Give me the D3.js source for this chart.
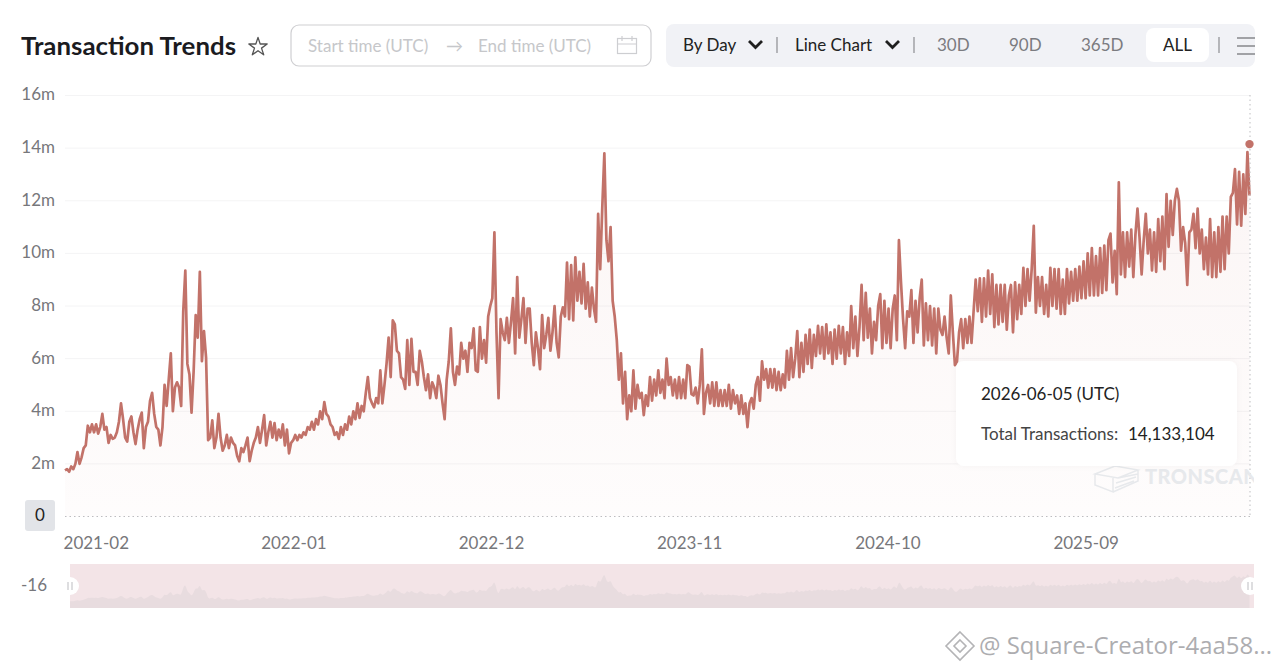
<!DOCTYPE html>
<html><head><meta charset="utf-8">
<script src="https://cdn.jsdelivr.net/npm/d3@7"></script>
<style>
html,body{margin:0;padding:0;background:#fff;overflow:hidden}
svg{display:block;font-family:Lato,sans-serif}
</style></head><body><svg id="c" width="1280" height="671"></svg>
<script>
// Data: total transactions (millions), sampled evenly from startDate to endDate
const startDate = "2020-12-11", endDate = "2026-06-05";
const values2021 = [
1.75,1.8,1.7,1.9,1.8,2.0,2.45,2.0,2.25,2.6,
2.7,3.45,3.2,3.5,3.2,3.5,3.15,3.4,3.9,3.3,
3.4,2.8,3.1,2.95,3.0,3.2,3.6,4.3,3.7,3.0,
2.85,3.6,3.8,3.2,2.75,3.3,3.7,3.95,2.6,3.4,
3.6,4.4,4.7,3.9,3.4,3.3,2.7,3.4,5.0,4.2,
5.2,6.2,4.0,4.9,5.1,4.9,4.2,7.8,9.35,5.8,
5.4,3.95,5.5,7.65,6.8,9.3,5.9,7.05,6.05,2.9,
3.0,3.65,2.6,3.0,3.9,3.0,2.5,2.7,3.1,2.6,
3.0,2.8,2.7,2.3,2.1,2.6,2.45,2.7,3.0,2.1,
2.5,2.8,3.0,3.4,2.8,3.3,3.85,2.7,3.2,3.6];
const values2022 = [
3.0,3.55,2.9,3.3,3.0,3.5,2.7,3.3,2.4,2.8,
2.9,3.1,2.9,3.1,3.0,3.2,3.1,3.4,3.3,3.6,
3.3,3.7,3.5,4.0,3.7,4.35,3.9,3.8,3.5,3.4,
3.1,3.2,2.95,3.4,3.1,3.5,3.3,3.8,3.5,4.0,
3.7,4.3,3.75,4.2,4.0,4.7,5.3,4.5,4.3,4.15,
4.5,4.3,5.55,4.3,5.0,5.8,6.8,5.3,7.45,7.3,
6.3,6.2,5.3,5.2,4.85,6.7,5.0,6.75,5.5,5.5,
5.0,6.3,5.9,5.3,4.8,5.4,4.5,5.1,4.9,4.5,
5.35,5.0,4.3,3.7,5.2,5.9,7.15,5.5,5.0,5.7,
5.4,6.6,6.0,6.3,5.5,6.6,6.4,7.15,5.55,5.5];
const values2023 = [
7.2,6.0,6.7,5.85,7.6,8.0,8.3,10.8,7.0,4.5,
7.5,7.0,6.7,7.55,6.6,7.4,8.3,6.2,9.1,6.8,
7.5,8.3,6.6,7.9,7.9,6.6,5.75,7.0,6.4,5.6,
7.65,6.4,6.9,7.55,6.3,7.0,8.0,6.6,6.05,7.6,
7.95,7.6,9.65,7.5,9.55,7.45,9.85,8.2,9.3,8.1,
9.6,7.9,8.9,7.6,8.7,7.9,7.4,11.5,9.4,11.75,
13.8,10.5,9.7,11.0,8.2,7.6,6.7,5.2,6.2,4.3,
5.5,3.7,4.6,4.0,5.55,4.1,5.0,4.5,4.7,3.85,
4.6,4.2,5.3,4.4,5.2,4.6,5.55,4.7,5.2,4.5,
6.0,5.0,5.3,4.6,5.2,4.5,5.3,4.5,5.2,4.5];
const values2024 = [
5.75,5.7,4.65,4.6,4.9,4.3,5.0,6.35,3.9,4.7,
5.0,4.3,5.1,4.2,5.1,4.2,4.8,4.2,4.8,4.2,
5.0,4.1,4.8,4.3,4.6,3.9,4.6,3.9,4.3,3.4,
4.3,4.5,4.1,5.0,5.3,4.4,5.9,5.2,5.6,4.9,
5.6,4.9,5.6,4.8,5.5,4.8,5.4,4.9,6.3,5.2,
6.4,5.3,6.0,7.05,5.3,6.6,5.5,6.9,5.8,7.1,
5.65,6.9,6.1,7.25,6.2,7.2,6.0,7.3,6.2,7.0,
5.8,7.1,6.0,7.25,6.2,7.2,5.8,7.0,6.1,8.0,
6.4,7.6,6.1,7.2,8.8,6.7,8.5,6.8,7.9,6.2,
7.4,6.7,8.0,8.45,6.4,8.2,6.6,7.9,6.4,7.9];
const values2025 = [
8.4,6.7,10.5,8.9,7.5,6.4,7.8,7.6,8.6,6.6,
8.2,7.0,8.3,9.0,6.5,8.1,6.7,8.0,6.5,7.9,
6.2,7.9,7.1,6.9,7.6,6.8,6.2,8.4,7.0,5.75,
5.9,7.0,7.5,6.4,7.5,6.6,7.6,6.6,7.8,9.0,
7.8,9.05,7.4,9.05,7.6,9.35,7.7,9.2,7.2,8.8,
7.3,8.8,7.4,8.8,7.1,8.4,8.8,7.0,8.9,7.5,
8.8,7.7,9.45,8.0,9.4,8.2,9.4,11.05,7.75,9.1,
8.0,9.1,7.7,8.8,7.6,9.45,8.0,9.4,7.9,9.4,
7.7,9.0,7.7,9.4,8.1,9.3,8.2,9.4,8.2,9.5,
8.3,9.7,8.3,10.0,8.4,10.2,8.4,9.9,8.4,10.2];
const values2026 = [
8.5,10.3,8.6,10.5,10.75,8.9,10.1,8.45,12.7,9.2,
10.8,9.1,10.8,9.5,10.9,9.1,10.7,11.7,10.6,9.2,
10.5,11.5,10.0,10.9,9.35,10.8,9.3,11.3,9.7,11.4,
9.4,12.25,10.25,12.0,10.7,12.0,12.45,12.0,10.1,11.0,
10.4,8.8,10.8,10.9,11.5,10.2,11.7,10.0,10.9,9.4,
10.6,9.2,11.3,9.1,10.8,9.1,11.0,9.3,11.4,9.4,
11.4,10.0,12.15,12.3,13.2,11.1,13.1,11.05,13.0,11.5,13.85,12.2];
const series = [...values2021,...values2022,...values2023,...values2024,...values2025,...values2026];
const yTicks = [0,2,4,6,8,10,12,14,16];
const xTickDates = ["2021-02-01","2022-01-01","2022-12-01","2023-11-01","2024-10-01","2025-09-01"];
const xTickLabels = ["2021-02","2022-01","2022-12","2023-11","2024-10","2025-09"];
const latestDate = "2026-06-05", latestValue = 14133104;
const rangeButtons = ["30D","90D","365D","ALL"];

const parse = d3.utcParse("%Y-%m-%d");
const t0 = parse(startDate), t1 = parse(endDate);
const data = series.map((v,i)=>({date:new Date(+t0+(t1-t0)*i/(series.length-1)),v}));

const svg = d3.select("#c");
const x = d3.scaleUtc().domain([t0,t1]).range([65,1249.5]);
const y = d3.scaleLinear().domain([0,16]).range([516.5,95.5]);
const my = d3.scaleLinear().domain([-1,16]).range([608,568]);

const defs = svg.append("defs");
const grad = defs.append("linearGradient").attr("id","af").attr("x1",0).attr("x2",0).attr("y1",0).attr("y2",1);
grad.append("stop").attr("offset",0).attr("stop-color","#c9736d").attr("stop-opacity",.07);
grad.append("stop").attr("offset",1).attr("stop-color","#c9736d").attr("stop-opacity",.02);
defs.append("filter").attr("id","sh").attr("x","-10%").attr("y","-10%").attr("width","120%").attr("height","120%")
  .append("feDropShadow").attr("dx",0).attr("dy",0).attr("stdDeviation",3).attr("flood-color","#000").attr("flood-opacity",.035);
defs.append("clipPath").attr("id","wm").append("rect").attr("x",1090).attr("y",460).attr("width",164).attr("height",40);
defs.append("clipPath").attr("id","mini").append("rect").attr("x",70).attr("y",560).attr("width",1184).attr("height",50);

// Header
svg.append("text").attr("x",21).attr("y",55).attr("font-size",25).attr("font-weight",700).attr("fill","#1b1b1f").attr("textLength",215).attr("lengthAdjust","spacingAndGlyphs").text("Transaction Trends");
const star = d3.symbol().type(d3.symbolStar).size(105);
svg.append("path").attr("d",star()).attr("transform","translate(258,47)").attr("fill","none").attr("stroke","#555").attr("stroke-width",1.3).attr("stroke-linejoin","round");

svg.append("rect").attr("x",291).attr("y",25).attr("width",360).attr("height",41).attr("rx",8).attr("fill","#fff").attr("stroke","#cfcfd2").attr("stroke-width",1.2);
const ph = [["Start time (UTC)",308],["→",446],["End time (UTC)",478]];
ph.forEach(([t,px])=>svg.append("text").attr("x",px).attr("y",52).attr("font-size",17).attr("fill","#c6c7ca").text(t));
const cal = svg.append("g").attr("fill","none").attr("stroke","#cdced1").attr("stroke-width",1.2);
cal.append("rect").attr("x",617.5).attr("y",38.5).attr("width",19).attr("height",15);
cal.append("path").attr("d","M617.5 44H636.5M622 36V41M632 36V41");

svg.append("rect").attr("x",666).attr("y",24).attr("width",589).attr("height",43).attr("rx",8).attr("fill","#f1f2f6");
svg.append("rect").attr("x",1146).attr("y",28).attr("width",63).attr("height",34).attr("rx",8).attr("fill","#fff");
[["By Day",683],["Line Chart",795]].forEach(([t,px])=>svg.append("text").attr("x",px).attr("y",51).attr("font-size",17).attr("fill","#222").text(t));
[["M749 41L755.5 47.5L762 41"],["M886 41L892.5 47.5L899 41"]].forEach(([d])=>svg.append("path").attr("d",d).attr("fill","none").attr("stroke","#1f1f1f").attr("stroke-width",2.8));
[777,914,1219].forEach(px=>svg.append("line").attr("x1",px).attr("x2",px).attr("y1",37).attr("y2",53).attr("stroke","#8d8d92").attr("stroke-width",1.2));
const btnX = [937,1009,1081,1163];
rangeButtons.forEach((t,i)=>svg.append("text").attr("x",btnX[i]).attr("y",51).attr("font-size",17).attr("fill",t==="ALL"?"#222":"#7b7b80").text(t));
[38,46,54].forEach(py=>svg.append("line").attr("x1",1237).attr("x2",1255).attr("y1",py).attr("y2",py).attr("stroke","#8d8d92").attr("stroke-width",1.6));

// Y axis + grid
const yAxis = d3.axisLeft(y).tickValues(yTicks).tickFormat(d=>d===0?"":d+"m").tickSize(0).tickPadding(10);
const yg = svg.append("g").attr("transform","translate(65,-1)").call(yAxis);
yg.select(".domain").remove();
yg.selectAll("text").attr("font-size",17).attr("font-family","Lato,sans-serif").attr("fill","#77777b");
svg.append("g").selectAll("line").data(yTicks.filter(d=>d>0)).join("line")
  .attr("x1",65).attr("x2",1250).attr("y1",d=>y(d)).attr("y2",d=>y(d)).attr("stroke","#f4f4f5").attr("stroke-width",1);
svg.append("rect").attr("x",25).attr("y",500).attr("width",30).attr("height",31).attr("rx",3).attr("fill","#e2e4e8");
svg.append("text").attr("x",40).attr("y",521).attr("text-anchor","middle").attr("font-size",17).attr("fill","#222").text(yTicks[0]);

// Area + line
svg.append("path").datum(data).attr("fill","url(#af)")
  .attr("d",d3.area().x(d=>x(d.date)).y0(y(0)).y1(d=>y(d.v)));
svg.append("path").datum(data).attr("fill","none").attr("stroke","#c27269").attr("stroke-width",2.7).attr("stroke-linejoin","round")
  .attr("d",d3.line().x(d=>x(d.date)).y(d=>y(d.v)));

// Dotted frame
svg.append("line").attr("x1",65).attr("x2",1250).attr("y1",516.5).attr("y2",516.5).attr("stroke","#bdbdc0").attr("stroke-width",1).attr("stroke-dasharray","1.5 3");
svg.append("line").attr("x1",1250).attr("x2",1250).attr("y1",95).attr("y2",516).attr("stroke","#bdbdc0").attr("stroke-width",1).attr("stroke-dasharray","1.5 3");
svg.append("circle").attr("cx",x(parse(latestDate))).attr("cy",y(latestValue/1e6)-.5).attr("r",4.2).attr("fill","#c27269");

// X axis
const xAxis = d3.axisBottom(x).tickValues(xTickDates.map(parse)).tickFormat((d,i)=>xTickLabels[i]).tickSize(0).tickPadding(21);
const xg = svg.append("g").attr("transform","translate(0,516)").call(xAxis);
xg.select(".domain").remove();
xg.selectAll("text").attr("font-size",17).attr("font-family","Lato,sans-serif").attr("fill","#77777b");

// Watermark
const wm = svg.append("g").attr("clip-path","url(#wm)");
wm.append("text").attr("x",1145).attr("y",484).attr("font-size",20).attr("font-weight",900).attr("letter-spacing",.5).attr("fill","#e7e9ec").text("TRONSCAN");
wm.append("path").attr("d","M1095 474L1115 466L1138 470L1118 478ZM1095 474V485L1113 492V478M1113 492L1138 481V470M1118 478L1138 474M1116 483L1136 477M1115 488L1134 481").attr("fill","none").attr("stroke","#e7e9ec").attr("stroke-width",1.5);

// Tooltip
svg.append("rect").attr("x",956).attr("y",361).attr("width",281).attr("height",105).attr("rx",8).attr("fill","#fff").attr("filter","url(#sh)");
svg.append("text").attr("x",981).attr("y",400).attr("font-size",17).attr("fill","#222").text(latestDate+" (UTC)");
svg.append("text").attr("x",981).attr("y",440).attr("font-size",17).attr("fill","#444").text("Total Transactions:");
svg.append("text").attr("x",1128).attr("y",440).attr("font-size",17).attr("fill","#222").text(d3.format(",")(latestValue));

// Zoom slider
svg.append("rect").attr("x",70).attr("y",564).attr("width",1184).attr("height",44).attr("fill","#f3e4e7");
svg.append("path").datum(data).attr("clip-path","url(#mini)").attr("fill","#e8dcdf")
  .attr("d",d3.area().x(d=>x(d.date)).y0(608).y1(d=>my(d.v)).curve(d3.curveBasis));
svg.append("text").attr("x",47).attr("y",591).attr("text-anchor","end").attr("font-size",17).attr("fill","#77777b").text("-16");
[70,1250].forEach(px=>{
  svg.append("circle").attr("cx",px).attr("cy",586).attr("r",9).attr("fill","#fff");
  svg.append("path").attr("d",`M${px-2} 582V590M${px+2} 582V590`).attr("stroke","#c9c9cc").attr("stroke-width",1.2);
});
svg.append("rect").attr("x",1254).attr("y",560).attr("width",12).attr("height",52).attr("fill","#fff");

// Footer credit
const logo = svg.append("g").attr("fill","none").attr("stroke","#b4b4b6").attr("stroke-width",1.6);
logo.append("path").attr("d","M960 632L974 646L960 660L946 646Z");
logo.append("path").attr("d","M960 640L966 646L960 652L954 646Z");
svg.append("text").attr("x",979).attr("y",654).attr("font-size",24).attr("font-family","Open Sans,sans-serif").attr("fill","#adadb0").attr("textLength",293).attr("lengthAdjust","spacingAndGlyphs").text("@ Square-Creator-4aa58...");
</script></body></html>
